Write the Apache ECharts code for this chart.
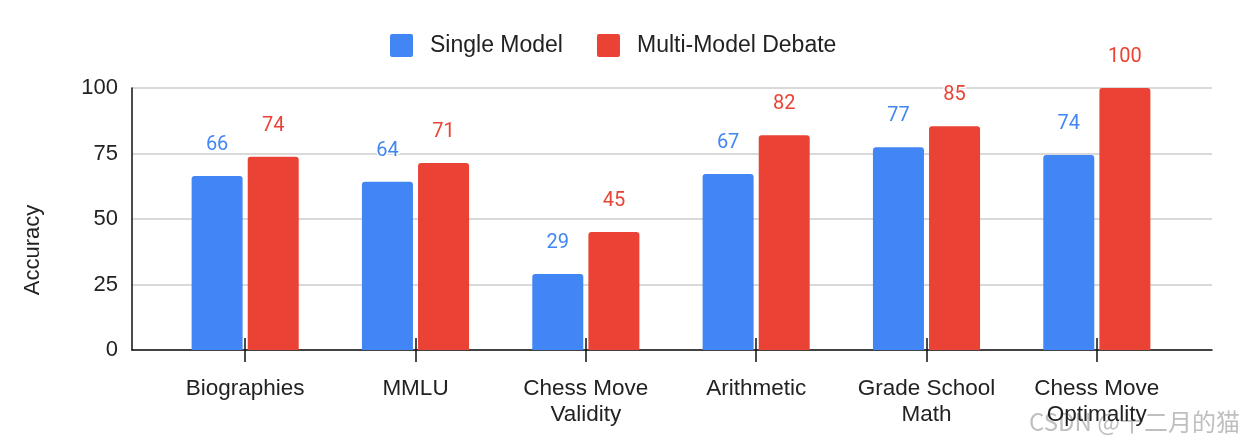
<!DOCTYPE html>
<html>
<head>
<meta charset="utf-8">
<script src="https://cdn.jsdelivr.net/npm/echarts@6/dist/echarts.min.js"></script>
<style>html,body{margin:0;padding:0;background:#fff}#c{width:1242px;height:443px}</style>
</head>
<body>
<div id="c"></div>
<script>
const categories = ['Biographies', 'MMLU', 'Chess Move\nValidity', 'Arithmetic', 'Grade School\nMath', 'Chess Move\nOptimality'];
const singleModel = [66.4, 64.2, 29.0, 67.2, 77.4, 74.4];
const multiModelDebate = [73.8, 71.4, 45.0, 82.0, 85.4, 100];
const yTicks = [0, 25, 50, 75, 100];

const chart = echarts.init(document.getElementById('c'));
const FONT = '"Liberation Sans", Arial, sans-serif';
const BLUE = '#4285F4', RED = '#EA4335';
const ICON = 'path://M2,0 H21 A2,2 0 0 1 23,2 V21 A2,2 0 0 1 21,23 H2 A2,2 0 0 1 0,21 V2 A2,2 0 0 1 2,0 Z';

chart.setOption({
  animation: false,
  backgroundColor: '#fff',
  legend: {
    top: 29, left: 385,
    itemWidth: 23, itemHeight: 23, itemGap: 34,
    icon: ICON,
    textStyle: { fontFamily: FONT, fontSize: 23, color: '#222', padding: [0, 0, 0, 12] },
    data: ['Single Model', 'Multi-Model Debate']
  },
  grid: [
    { left: 132, right: 30, top: 88, bottom: 93 },
    { left: 160, right: 60, top: 88, bottom: 93 }
  ],
  xAxis: [
    { gridIndex: 0, type: 'value', min: 0, max: 1,
      axisLine: { show: true, lineStyle: { color: '#111', width: 1.5 } },
      axisTick: { show: false }, axisLabel: { show: false }, splitLine: { show: false } },
    { gridIndex: 1, type: 'category', data: categories, offset: -12,
      axisLine: { show: false },
      axisTick: { show: true, alignWithLabel: true, length: 24, lineStyle: { color: '#111', width: 1.5 } },
      axisLabel: { fontFamily: FONT, fontSize: 22.5, color: '#222', margin: 38, lineHeight: 26, interval: 0 } }
  ],
  yAxis: [
    { gridIndex: 0, type: 'value', min: 0, max: 100, interval: 25,
      axisLine: { show: true, lineStyle: { color: '#111', width: 1.5 } },
      axisTick: { show: false },
      axisLabel: { fontFamily: FONT, fontSize: 22, color: '#222', margin: 14,
        formatter: v => yTicks.includes(v) ? String(v) : '' },
      splitLine: { show: true, lineStyle: { color: '#cccccc', width: 1.5 } } },
    { gridIndex: 1, type: 'value', min: 0, max: 100, interval: 25, show: false,
      splitLine: { show: false } }
  ],
  graphic: [
    { type: 'text', x: 33, y: 250, rotation: Math.PI / 2,
      style: { text: 'Accuracy', font: '22px "Liberation Sans", Arial, sans-serif', fill: '#222',
        align: 'center', verticalAlign: 'middle' } },
    { type: 'text', right: 2, top: 410,
      style: { text: 'CSDN @十二月的猫', font: '24px "Noto Sans CJK SC", sans-serif', fill: 'rgba(170,170,170,0.75)' } }
  ],
  series: [
    { name: 'Single Model', type: 'bar', xAxisIndex: 1, yAxisIndex: 1, data: singleModel,
      barWidth: 51, barGap: '10%',
      itemStyle: { color: BLUE, borderRadius: [3, 3, 0, 0] },
      label: { show: true, position: 'top', distance: 21, color: BLUE,
        textBorderColor: '#fff', textBorderWidth: 3,
        fontFamily: 'Roboto, sans-serif', fontSize: 20, formatter: p => Math.round(p.value) } },
    { name: 'Multi-Model Debate', type: 'bar', xAxisIndex: 1, yAxisIndex: 1, data: multiModelDebate,
      barWidth: 51,
      itemStyle: { color: RED, borderRadius: [3, 3, 0, 0] },
      label: { show: true, position: 'top', distance: 21, color: RED,
        textBorderColor: '#fff', textBorderWidth: 3,
        fontFamily: 'Roboto, sans-serif', fontSize: 20, formatter: p => Math.round(p.value) } }
  ]
});
</script>
</body>
</html>
